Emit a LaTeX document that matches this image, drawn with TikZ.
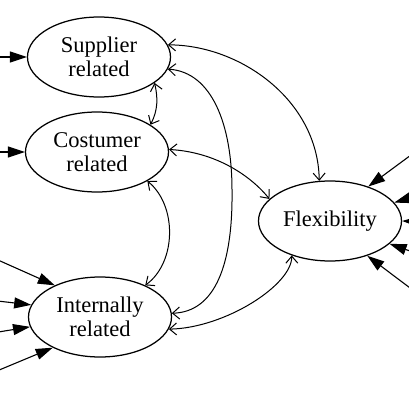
\documentclass[tikz,border=0pt]{standalone}
\usepackage{fontspec}
\setmainfont{Liberation Serif}
\usetikzlibrary{shapes.geometric,arrows.meta}
\begin{document}
\begin{tikzpicture}[x=1pt,y=-1pt,
  concept/.style={ellipse,draw,line width=1.25pt,minimum width=143pt,minimum height=80pt,inner sep=0pt,align=center,font=\fontsize{22.5}{23.5}\selectfont},
  inarrow/.style={line width=1.1pt,-{Triangle[length=17pt,width=11pt]}},
  link/.style={line width=1pt,{Straight Barb[length=7pt,width=12pt]}-{Straight Barb[length=7pt,width=12pt]}}]
\useasboundingbox (0,0) rectangle (409,409);
\fill[white] (0,0) rectangle (409,409);
\node[concept] (sup) at (99,57) {Supplier\\related};
\node[concept] (cos) at (97,152) {Costumer\\related};
\node[concept] (int) at (100,317) {Internally\\related};
\node[concept] (flex) at (330,221) {Flexibility};
% external sources
\coordinate (l1) at (-20,57);
\coordinate (l2) at (-20,152);
\coordinate (l3) at (-20,252);
\coordinate (l4) at (-20,299);
\coordinate (l5) at (-20,335);
\coordinate (l6) at (-20,378);
\coordinate (r1) at (430,141);
\coordinate (r2) at (430,192);
\coordinate (r3) at (430,222);
\coordinate (r4) at (430,258);
\coordinate (r5) at (430,303);
\draw[inarrow] (l1) -- (sup.180);
\draw[inarrow] (l2) -- (cos.180);
\draw[inarrow] (l3) -- (int.145);
\draw[inarrow] (l4) -- (int.170);
\draw[inarrow] (l5) -- (int.188);
\draw[inarrow] (l6) -- (int.213);
\draw[inarrow] (r1) -- (flex.42);
\draw[inarrow] (r2) -- (flex.16);
\draw[inarrow] (r3) -- (flex.0);
\draw[inarrow] (r4) -- (flex.-21);
\draw[inarrow] (r5) -- (flex.-43);
% links
\draw[link] (sup.10) .. controls (240,45) and (318,100) .. (flex.105);
\draw[link] (sup.-10) .. controls (212,72) and (232,125) .. (232,190) .. controls (233,265) and (215,312) .. (int.3);
\draw[link] (cos.2) .. controls (215,152) and (250,175) .. (flex.160);
\draw[link] (sup.-25) .. controls (158,98) and (158,110) .. (cos.27);
\draw[link] (cos.-30) .. controls (177,205) and (177,262) .. (int.35);
\draw[link] (int.-10) .. controls (225,328) and (292,285) .. (flex.222);
\end{tikzpicture}
\end{document}
